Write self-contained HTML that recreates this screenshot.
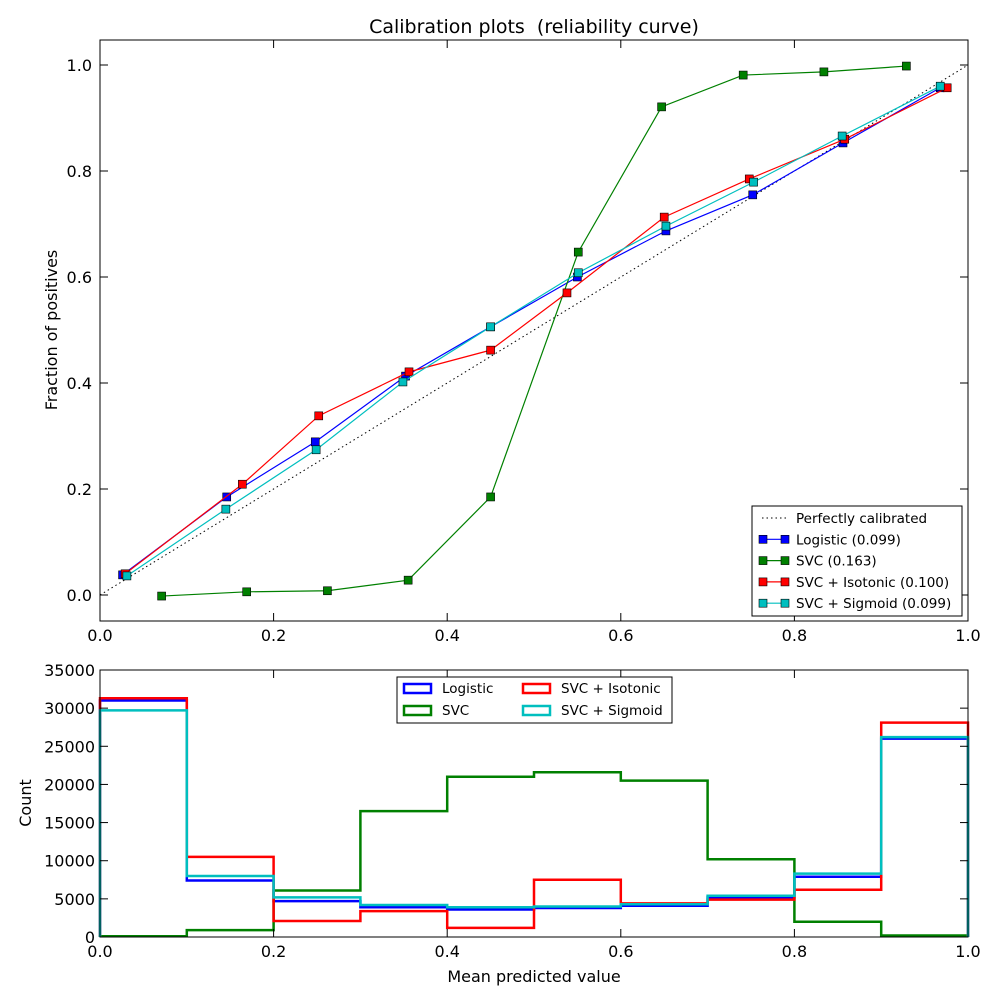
<!DOCTYPE html>
<html><head><meta charset="utf-8"><style>
body{margin:0;background:#fff}
svg{display:block;font-family:"DejaVu Sans","Liberation Sans",sans-serif}
</style></head><body>
<svg id="c" width="1000" height="1000" viewBox="0 0 1000 1000"></svg>
<script>
const binEdges=[0,0.1,0.2,0.3,0.4,0.5,0.6,0.7,0.8,0.9,1.0];
const logX=[0.026,0.146,0.248,0.352,0.450,0.550,0.652,0.752,0.856,0.968];
const logY=[0.038,0.185,0.289,0.413,0.506,0.600,0.687,0.755,0.853,0.957];
const svcX=[0.071,0.169,0.262,0.355,0.450,0.551,0.647,0.741,0.834,0.929];
const svcY=[-0.002,0.006,0.008,0.028,0.185,0.647,0.921,0.981,0.987,0.998];
const isoX=[0.029,0.164,0.252,0.356,0.450,0.538,0.650,0.748,0.858,0.976];
const isoY=[0.040,0.209,0.338,0.421,0.462,0.570,0.713,0.785,0.860,0.957];
const sigX=[0.031,0.145,0.249,0.349,0.450,0.551,0.652,0.753,0.855,0.968];
const sigY=[0.036,0.162,0.274,0.402,0.506,0.608,0.696,0.779,0.866,0.960];
const logCounts=[31000,7400,4700,3900,3600,3800,4100,5200,7900,26000];
const svcCounts=[100,900,6100,16500,21000,21600,20500,10200,2000,200];
const isoCounts=[31300,10500,2100,3400,1200,7500,4400,4900,6200,28100];
const sigCounts=[29700,8000,5200,4200,3900,4000,4300,5400,8300,26200];
const xTicks=[0,0.2,0.4,0.6,0.8,1.0];
const xTickLabels=["0.0","0.2","0.4","0.6","0.8","1.0"];
const yTicks=[0,0.2,0.4,0.6,0.8,1.0];
const yTickLabels=["0.0","0.2","0.4","0.6","0.8","1.0"];
const cTicks=[0,5000,10000,15000,20000,25000,30000,35000];

const NS="http://www.w3.org/2000/svg";
const svg=document.getElementById('c');
function mk(tag,attrs,parent,name){const e=document.createElementNS(NS,tag);for(const k in attrs)e.setAttribute(k,attrs[k]);


(parent||svg).appendChild(e);return e;}
const L=100,R=968;
const sx=v=>L+(R-L)*v;
const sy=v=>595-530*v;
const T2=670,B2=937;
const sc=v=>B2-(B2-T2)*v/35000;

const g1=mk('g',{},svg,'calibration-axes');
mk('rect',{x:L,y:40,width:R-L,height:581,fill:'none',stroke:'#000','stroke-width':1},g1,'top-plot-frame');
xTicks.forEach((t,i)=>{const x=sx(t);
mk('line',{x1:x,x2:x,y1:621,y2:613,stroke:'#000'},g1,'top-x-tick');
mk('line',{x1:x,x2:x,y1:40,y2:48,stroke:'#000'},g1,'top-x-tick');
const tx=mk('text',{x:x,y:641,'font-size':16,'text-anchor':'middle'},g1,'top-x-tick-label');tx.textContent=xTickLabels[i];});
yTicks.forEach((t,i)=>{const y=sy(t);
mk('line',{x1:L,x2:L+8,y1:y,y2:y,stroke:'#000'},g1,'top-y-tick');
mk('line',{x1:R,x2:R-8,y1:y,y2:y,stroke:'#000'},g1,'top-y-tick');
const tx=mk('text',{x:L-8,y:y+6,'font-size':16,'text-anchor':'end'},g1,'top-y-tick-label');tx.textContent=yTickLabels[i];});
const tt=mk('text',{x:534,y:33,'font-size':19,'text-anchor':'middle',style:'white-space:pre'},g1,'chart-title');tt.textContent='Calibration plots  (reliability curve)';
const yl=mk('text',{x:0,y:0,'font-size':16,'text-anchor':'middle',transform:'translate(57,330) rotate(-90)'},g1,'y-axis-title');yl.textContent='Fraction of positives';
mk('line',{x1:sx(0),y1:sy(0),x2:sx(1),y2:sy(1),stroke:'#000','stroke-dasharray':'1.5,3','stroke-width':1},g1,'perfectly-calibrated-line');
function series(xs,ys,col,name){const g=mk('g',{},g1,name+'-series');
mk('polyline',{points:xs.map((x,i)=>sx(x)+','+sy(ys[i])).join(' '),fill:'none',stroke:col,'stroke-width':1.2},g,name+'-line');
xs.forEach((x,i)=>mk('rect',{x:sx(x)-4,y:sy(ys[i])-4,width:8,height:8,fill:col,stroke:'#000','stroke-width':0.6},g,name+'-marker'));}
series(logX,logY,'#0000ff','logistic');
series(svcX,svcY,'#008000','svc');
series(isoX,isoY,'#ff0000','svc-isotonic');
series(sigX,sigY,'#00bfbf','svc-sigmoid');
const lg=mk('g',{},g1,'calibration-legend');
mk('rect',{x:752,y:506,width:210,height:110,fill:'#fff',stroke:'#000'},lg,'legend-frame');
const ents=[['Perfectly calibrated',null],['Logistic (0.099)','#0000ff'],['SVC (0.163)','#008000'],['SVC + Isotonic (0.100)','#ff0000'],['SVC + Sigmoid (0.099)','#00bfbf']];
ents.forEach((e,i)=>{const y=518+i*21.3;
if(e[1]){mk('line',{x1:763,x2:785,y1:y,y2:y,stroke:e[1],'stroke-width':1.2},lg,'legend-line');
[763,785].forEach(x=>mk('rect',{x:x-4,y:y-4,width:8,height:8,fill:e[1],stroke:'#000','stroke-width':0.6},lg,'legend-marker'));}
else mk('line',{x1:762,x2:786,y1:y,y2:y,stroke:'#000','stroke-dasharray':'1.5,3'},lg,'legend-line');
const t=mk('text',{x:796,y:y+5,'font-size':13.5},lg,'legend-entry');t.textContent=e[0];});

const g2=mk('g',{},svg,'histogram-axes');
function hist(counts,col,name){let d='M'+sx(binEdges[0])+','+sc(0);
counts.forEach((c,i)=>{d+=' L'+sx(binEdges[i])+','+sc(c)+' L'+sx(binEdges[i+1])+','+sc(c);});
d+=' L'+sx(binEdges[binEdges.length-1])+','+sc(0);
mk('path',{d:d,fill:'none',stroke:col,'stroke-width':2.5},g2,name);}
hist(logCounts,'#0000ff','logistic-hist');
hist(svcCounts,'#008000','svc-hist');
hist(isoCounts,'#ff0000','svc-isotonic-hist');
hist(sigCounts,'#00bfbf','svc-sigmoid-hist');
mk('rect',{x:L,y:T2,width:R-L,height:B2-T2,fill:'none',stroke:'#000'},g2,'bottom-plot-frame');
xTicks.forEach((t,i)=>{const x=sx(t);
mk('line',{x1:x,x2:x,y1:B2,y2:B2-8,stroke:'#000'},g2,'bottom-x-tick');
mk('line',{x1:x,x2:x,y1:T2,y2:T2+8,stroke:'#000'},g2,'bottom-x-tick');
const tx=mk('text',{x:x,y:957,'font-size':16,'text-anchor':'middle'},g2,'bottom-x-tick-label');tx.textContent=xTickLabels[i];});
cTicks.forEach(t=>{const y=sc(t);
mk('line',{x1:L,x2:L+8,y1:y,y2:y,stroke:'#000'},g2,'count-tick');
mk('line',{x1:R,x2:R-8,y1:y,y2:y,stroke:'#000'},g2,'count-tick');
const tx=mk('text',{x:L-5,y:y+6,'font-size':16,'text-anchor':'end'},g2,'count-tick-label');tx.textContent=String(t);});
const xl=mk('text',{x:534,y:982,'font-size':16,'text-anchor':'middle'},g2,'x-axis-title');xl.textContent='Mean predicted value';
const cl=mk('text',{x:0,y:0,'font-size':16,'text-anchor':'middle',transform:'translate(31,803) rotate(-90)'},g2,'count-axis-title');cl.textContent='Count';
const lg2=mk('g',{},g2,'histogram-legend');
mk('rect',{x:397,y:677,width:275,height:46,fill:'#fff',stroke:'#000'},lg2,'legend-frame');
[['Logistic','#0000ff',403,688],['SVC','#008000',403,710],['SVC + Isotonic','#ff0000',522,688],['SVC + Sigmoid','#00bfbf',522,710]].forEach(e=>{
mk('rect',{x:e[2]+1,y:e[3]-4,width:27,height:9,fill:'none',stroke:e[1],'stroke-width':2.5},lg2,'legend-swatch');
const t=mk('text',{x:e[2]+39,y:e[3]+5,'font-size':13.5},lg2,'legend-entry');t.textContent=e[0];});
</script>
</body></html>
